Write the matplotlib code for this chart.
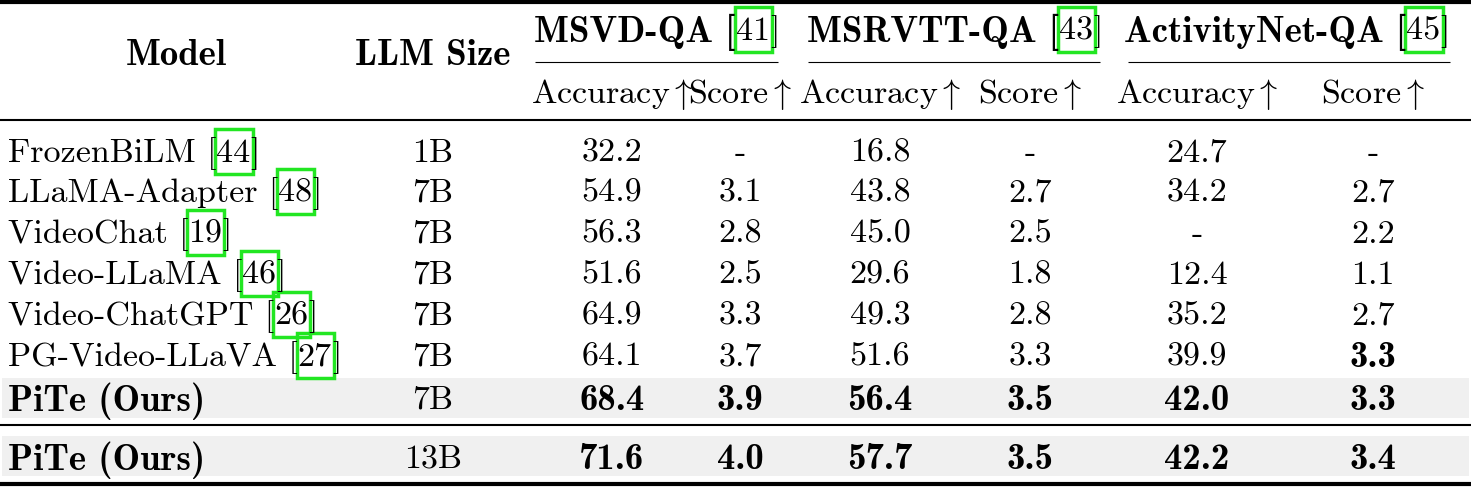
import matplotlib
matplotlib.use("Agg")
import matplotlib.pyplot as plt
from matplotlib.patches import Rectangle

plt.rcParams['mathtext.fontset'] = 'cm'
plt.rcParams['axes.unicode_minus'] = False

models = ["FrozenBiLM", "LLaMA-Adapter", "VideoChat", "Video-LLaMA", "Video-ChatGPT", "PG-Video-LLaVA", "PiTe (Ours)", "PiTe (Ours)"]
cites = ["44", "48", "19", "46", "26", "27", None, None]
sizes = ["1B", "7B", "7B", "7B", "7B", "7B", "7B", "13B"]
msvd_acc = ["32.2", "54.9", "56.3", "51.6", "64.9", "64.1", "68.4", "71.6"]
msvd_score = ["-", "3.1", "2.8", "2.5", "3.3", "3.7", "3.9", "4.0"]
msrvtt_acc = ["16.8", "43.8", "45.0", "29.6", "49.3", "51.6", "56.4", "57.7"]
msrvtt_score = ["-", "2.7", "2.5", "1.8", "2.8", "3.3", "3.5", "3.5"]
anet_acc = ["24.7", "34.2", "-", "12.4", "35.2", "39.9", "42.0", "42.2"]
anet_score = ["-", "2.7", "2.2", "1.1", "2.7", "3.3", "3.3", "3.4"]
bold_rows = [6, 7]
bold_cells = [(5, 5)]
groups = ["MSVD-QA", "MSRVTT-QA", "ActivityNet-QA"]
group_cites = ["41", "43", "45"]

W, H = 1471, 488
fig = plt.figure(figsize=(W/100, H/100), dpi=100)
ax = fig.add_axes([0, 0, 1, 1])
ax.set_xlim(0, W); ax.set_ylim(H, 0); ax.axis('off')
r = fig.canvas.get_renderer()
inv = ax.transData.inverted()
FS = 24.5
FSB = 26.5
REG = 'cmr10'; BOLD = 'cmb10'

def ext(t):
    bb = t.get_window_extent(r)
    (x0, y0), (x1, y1) = inv.transform([[bb.x0, bb.y0], [bb.x1, bb.y1]])
    return x0, x1, min(y0, y1), max(y0, y1)

def put(x, y, s, fam=REG, ha='center'):
    return ax.text(x, y, s, family=fam, fontsize=FSB if fam == BOLD else FS,
                   ha=ha, va='center_baseline')

def cited(x, y, prefix, num, fam, ha='left'):
    parts = [(prefix + " [", fam), (num, REG), ("]", REG)]
    ts = [ax.text(0, y, s, family=f, fontsize=FSB if f == BOLD else FS,
                  ha='left', va='center_baseline') for s, f in parts]
    widths = [ext(t)[1] - ext(t)[0] for t in ts]
    total = sum(widths)
    cx = x if ha == 'left' else x - total / 2
    for t, w in zip(ts, widths):
        t.set_x(cx); cx += w
    x0, x1, _, _ = ext(ts[1])
    ax.add_patch(Rectangle((x0 - 1, y - 21), x1 - x0 + 3, 45, fill=False, ec='#22e622', lw=2.5))

def hline(y, x0=0, x1=W, lw=1.0):
    ax.plot([x0, x1], [y, y], color='black', lw=lw, solid_capstyle='butt')

# rules
hline(2, lw=3)
hline(120, lw=1.5)
hline(425, lw=1.5)
hline(484, lw=3)
for x0, x1 in [(535, 778), (808, 1100), (1128, 1450)]:
    hline(62, x0, x1, lw=0.8)

# gray bands
for y0, y1 in [(378, 418), (436, 476)]:
    ax.add_patch(Rectangle((2, y0), W - 4, y1 - y0, color='#f0f0f0', zorder=0, lw=0))

# headers
put(176, 52, "Model", BOLD)
put(433, 52, "LLM Size", BOLD)
for g, c, xc in zip(groups, group_cites, [657, 955, 1287]):
    cited(xc, 28, g, c, BOLD, ha='center')
colx = [612, 740, 880, 1030, 1197, 1373]
for i, x in enumerate(colx):
    put(x, 90, r"Accuracy$\uparrow$" if i % 2 == 0 else r"Score$\uparrow$")

rows_y = [150, 190, 231, 272, 313, 354, 397, 456]
cols = [msvd_acc, msvd_score, msrvtt_acc, msrvtt_score, anet_acc, anet_score]
for i, y in enumerate(rows_y):
    b = i in bold_rows
    if cites[i]:
        cited(8, y, models[i], cites[i], REG)
    else:
        put(8, y, models[i], BOLD if b else REG, ha='left')
    put(433, y, sizes[i])
    for j, (x, col) in enumerate(zip(colx, cols)):
        put(x, y, col[i], BOLD if (b or (i, j) in bold_cells) else REG)

fig.savefig("out.png", dpi=100)
